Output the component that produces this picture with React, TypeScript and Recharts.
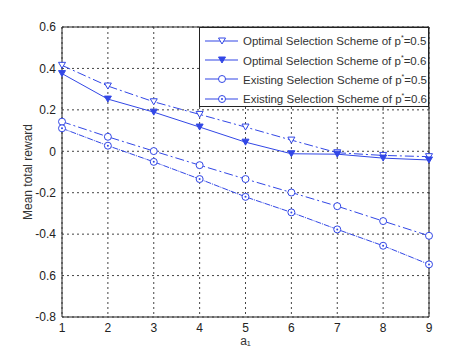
import React from "react";
import {
  LineChart,
  Line,
  XAxis,
  YAxis,
  CartesianGrid,
  ReferenceLine,
} from "recharts";

const a1 = [1, 2, 3, 4, 5, 6, 7, 8, 9];
const optimal05 = [0.415, 0.315, 0.239, 0.178, 0.117, 0.054, -0.007, -0.02, -0.026];
const optimal06 = [0.375, 0.252, 0.189, 0.117, 0.044, -0.012, -0.014, -0.033, -0.042];
const existing05 = [0.143, 0.07, 0.001, -0.067, -0.134, -0.199, -0.265, -0.337, -0.408];
const existing06 = [0.111, 0.027, -0.051, -0.134, -0.22, -0.295, -0.377, -0.456, -0.546];
const yTicks = [-0.8, -0.6, -0.4, -0.2, 0, 0.2, 0.4, 0.6];
const yTickLabels = ["-0.8", "0.6", "-0.4", "-0.2", "0", "0.2", "0.4", "0.6"];
const legendNames = [
  "Optimal Selection Scheme of p",
  "Optimal Selection Scheme of p",
  "Existing Selection Scheme of  p",
  "Existing Selection Scheme of  p",
];
const legendValues = ["=0.5", "=0.6", "=0.5", "=0.6"];

const data = a1.map((a, i) => ({
  a,
  opt05: optimal05[i],
  opt06: optimal06[i],
  ex05: existing05[i],
  ex06: existing06[i],
}));

const BLUE = "#3247e6";
const FONT = "'Liberation Sans', Arial, sans-serif";

const Marker = ({ kind, cx, cy }: { kind: number; cx: number; cy: number }) => {
  if (kind === 0 || kind === 1) {
    const pts = `${cx - 3.5},${cy - 3} ${cx + 3.5},${cy - 3} ${cx},${cy + 3}`;
    return (
      <polygon
        points={pts}
        fill={kind === 1 ? BLUE : "white"}
        stroke={BLUE}
        strokeWidth={1}
      />
    );
  }
  return (
    <g>
      <circle cx={cx} cy={cy} r={3.5} fill="white" stroke={BLUE} strokeWidth={1} />
      {kind === 3 && <circle cx={cx} cy={cy} r={1} fill={BLUE} />}
    </g>
  );
};

const makeDot = (kind: number) => (props: any) =>
  <Marker key={`${kind}-${props.index}`} kind={kind} cx={props.cx} cy={props.cy} />;

// legend drawn as an html box over the plot, like matlab's inset legend
const LegendBox = () => (
  <div
    style={{
      position: "absolute",
      left: 199,
      top: 27,
      width: 230,
      height: 80,
      boxSizing: "border-box",
      border: "1px solid #222",
      background: "white",
      fontFamily: FONT,
      fontSize: 11.5,
      color: "#333",
      paddingTop: 3,
    }}
  >
    {legendNames.map((name, i) => (
      <div key={i} style={{ display: "flex", alignItems: "center", height: 19.3 }}>
        <svg width={43} height={12} style={{ flex: "none" }}>
          <line x1={5} x2={38} y1={6} y2={6} stroke={BLUE} strokeWidth={1.2} />
          <Marker kind={i} cx={22} cy={6} />
        </svg>
        <span style={{ whiteSpace: "nowrap" }}>
          {name}
          <sup style={{ fontSize: 7 }}>*</sup>
          {legendValues[i]}
        </span>
      </div>
    ))}
  </div>
);

const App = () => {
  return (
    <div style={{ position: "absolute", left: 0, top: 0, width: 474, height: 355, background: "white" }}>
      <LineChart
        width={474}
        height={355}
        data={data}
        margin={{ top: 27, right: 45, bottom: 18, left: 22 }}
      >
        <CartesianGrid stroke="#444" strokeDasharray="2 3" />
        <XAxis
          dataKey="a"
          type="number"
          domain={[1, 9]}
          ticks={a1}
          tickLine={false}
          axisLine={{ stroke: "#222" }}
          tick={{ fill: "#222", fontSize: 12, fontFamily: FONT }}
          tickMargin={0}
          height={20}
          label={{ value: "a₁", position: "insideBottom", offset: -8, fill: "#333", fontSize: 12, fontFamily: FONT }}
        />
        <YAxis
          type="number"
          domain={[-0.8, 0.6]}
          ticks={yTicks}
          tickFormatter={(v: number) => yTickLabels[yTicks.findIndex((t) => Math.abs(t - v) < 1e-6)]}
          tickLine={false}
          axisLine={{ stroke: "#222" }}
          tick={{ fill: "#222", fontSize: 12, fontFamily: FONT }}
          tickMargin={0}
          width={40}
          label={{ value: "Mean total reward", angle: -90, position: "insideLeft", offset: 6, fill: "#333", fontSize: 12, fontFamily: FONT, style: { textAnchor: "middle" } }}
        />
        <ReferenceLine y={0.6} stroke="#222" />
        <ReferenceLine x={9} stroke="#222" />
        <Line dataKey="opt05" stroke={BLUE} strokeWidth={1} strokeDasharray="9 3 2 3" dot={makeDot(0)} isAnimationActive={false} />
        <Line dataKey="opt06" stroke={BLUE} strokeWidth={1} dot={makeDot(1)} isAnimationActive={false} />
        <Line dataKey="ex05" stroke={BLUE} strokeWidth={1} strokeDasharray="9 3 2 3" dot={makeDot(2)} isAnimationActive={false} />
        <Line dataKey="ex06" stroke={BLUE} strokeWidth={1} strokeDasharray="6 1 1 1" dot={makeDot(3)} isAnimationActive={false} />
      </LineChart>
      <LegendBox />
    </div>
  );
};

export default App;
